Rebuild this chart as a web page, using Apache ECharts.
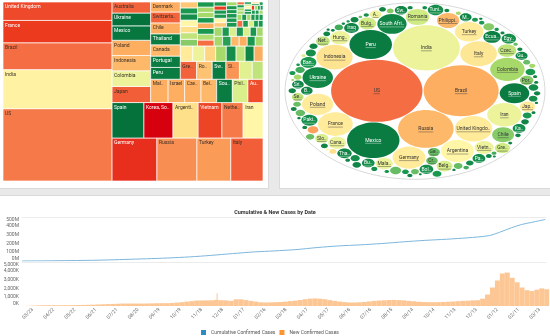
<!DOCTYPE html>
<html><head><meta charset="utf-8">
<script src="https://cdn.jsdelivr.net/npm/echarts@6/dist/echarts.min.js"></script>
<style>
html,body{margin:0;padding:0;width:550px;height:336px;overflow:hidden;background:#e9e9e9;font-family:Roboto,sans-serif}
.panel{position:absolute;background:#fff;border:1px solid #dadada;box-sizing:border-box}
#chart{position:absolute;left:0;top:0;width:550px;height:336px}
</style></head><body>
<div class="panel" style="left:-1px;top:-1px;width:270px;height:190px"></div>
<div class="panel" style="left:279px;top:-1px;width:272px;height:190px"></div>
<div class="panel" style="left:-1px;top:195px;width:552px;height:142px"></div>
<div id="chart"></div>
<script>
// ---------------- DATA ----------------
// Treemap: cumulative confirmed cases (millions) and colour trend score (0 green .. 1 red)
const treeNames = ['US','India','Brazil','France','United Kingdom','Germany','Russia','Turkey','Italy','Spain','Korea, South','Argentina','Vietnam','Netherlands','Iran','Japan','Colombia','Indonesia','Poland','Mexico','Ukraine','Australia','Malaysia','Israel','Czechia','Belgium','South Africa','Philippines','Austria','Peru','Portugal','Canada','Thailand','Chile','Switzerland','Denmark','Greece','Romania','Sweden','Slovakia','Iraq','Bangladesh','Serbia','Hungary','Jordan','Georgia','Pakistan','Kazakhstan','Norway','Ireland','Morocco','Bulgaria','Croatia','Lebanon','Cuba','Tunisia','Lithuania','Singapore','Nepal','Belarus','Slovenia','Bolivia','United Arab Emirates','Uruguay','Ecuador','Costa Rica','Guatemala','Latvia','Finland','Azerbaijan','Panama','Saudi Arabia','Sri Lanka','West Bank and Gaza','Paraguay','Kuwait','Burma','Dominican Republic','Estonia','Bahrain','Venezuela','Moldova','New Zealand','Egypt','Libya','Mongolia','Ethiopia','Honduras','Armenia','Oman','Cyprus','Bosnia and Herzegovina','Qatar','Kenya','Zambia','North Macedonia','Botswana','Albania','Algeria','Nigeria','Zimbabwe','Uzbekistan','Montenegro','Mozambique','Luxembourg','Kyrgyzstan','Afghanistan','Laos','Maldives','Ghana','Namibia','Uganda','El Salvador','Iceland','Trinidad and Tobago','Cambodia','Jamaica','Rwanda','Brunei','Cameroon'];
const treeCases = [79.7,43.0,29.6,24.6,20.3,19.5,17.4,14.7,14.0,11.4,10.4,9.0,8.5,7.6,7.1,6.3,6.08,5.98,5.93,5.63,5.0,4.3,4.1,3.9,3.85,3.7,3.69,3.67,3.55,3.54,3.4,3.38,3.3,3.28,3.25,3.0,2.95,2.83,2.48,2.45,2.32,1.95,1.92,1.85,1.69,1.64,1.52,1.39,1.4,1.37,1.16,1.14,1.1,1.09,1.08,1.03,1.02,1.0,0.98,0.96,0.93,0.9,0.89,0.88,0.85,0.83,0.83,0.8,0.79,0.79,0.76,0.75,0.66,0.66,0.65,0.63,0.61,0.58,0.55,0.55,0.52,0.51,0.5,0.5,0.5,0.47,0.47,0.42,0.42,0.39,0.39,0.37,0.36,0.32,0.31,0.3,0.3,0.27,0.26,0.25,0.24,0.24,0.23,0.22,0.2,0.2,0.18,0.17,0.17,0.16,0.16,0.16,0.16,0.15,0.14,0.13,0.13,0.13,0.13,0.12];
const treeTrend = [.78,.52,.80,.90,.87,.92,.75,.73,.83,.02,1.0,.60,.88,.78,.50,.83,.45,.68,.70,.03,.02,.82,.70,.70,.70,.68,.04,.40,.86,.04,.04,.68,.04,.70,.82,.70,.82,.66,.04,.74,.42,.35,.55,.45,.62,.30,.08,.06,.35,.70,.25,.35,.60,.50,.08,.10,.65,.80,.32,.10,.70,.10,.30,.30,.10,.30,.12,.68,.70,.10,.30,.30,.10,.40,.10,.40,.10,.30,.65,.50,.10,.10,.90,.10,.10,.10,.10,.10,.10,.30,.80,.10,.40,.10,.10,.30,.10,.30,.10,.10,.10,.30,.30,.10,.80,.10,.10,.50,.40,.10,.10,.10,.30,.90,.30,.10,.10,.10,.60,.10];

// Circle pack: cumulative deaths (thousands) and colour trend score, in the chart's drawing order
const packNames = ['US','Brazil','India','Russia','Mexico','Peru','United Kingdom','Italy','France','Indonesia','Iran','Germany','Colombia','Argentina','South Africa','Turkey','Poland','Ukraine','Spain','Portugal','Georgia','Croatia','Bosnia and Herzegovina','Hungary','Canada','Chile','Romania','Vietnam','Czechia','Philippines','Malaysia','Bulgaria','Ecuador','Belgium','Pakistan','Bangladesh','Tunisia','Japan','Greece','Iraq','Egypt','Thailand','Bolivia','Netherlands','Slovakia','Kazakhstan','Burma','Paraguay','Sweden','Guatemala','Sri Lanka','Morocco','Serbia','Austria','Jordan','Switzerland','Korea, South','Nepal','Moldova','Honduras','Israel','Lebanon','Azerbaijan','North Macedonia','Saudi Arabia','Lithuania','Armenia','Cuba','Costa Rica','Panama','Afghanistan','Ethiopia','Uruguay','Algeria','Ireland','Slovenia','Belarus','Libya','Australia','Latvia','Venezuela','Kenya','Denmark','West Bank and Gaza','Zimbabwe','Sudan','China','Dominican Republic','Oman','El Salvador','Namibia','Zambia','Trinidad and Tobago','Uganda','Albania','Nigeria','Syria','Kosovo','Cambodia','Finland','Kyrgyzstan','Jamaica','Montenegro','Botswana','Malawi','Kuwait','Estonia','United Arab Emirates','Mozambique','Mongolia','Yemen','Norway','Senegal','Cameroon','Angola','Uzbekistan','Bahrain','Rwanda','Ghana','Eswatini','Somalia','Congo (Kinshasa)','Suriname','Singapore','Guyana','Mauritania','Madagascar','Luxembourg'];
const packDeaths = [975,657,521,360,321,212,164,158,141,154,139,127,139,127,100,96,114,108,102,21,17,15.5,15.7,45,37,56,65,42,40,58,34,36,35,30,30,29,28,27,27,25,24,24,22,22,20,19,19,19,18,17,16,16,16,15,14,13.6,13.4,12,11.3,10.8,10.5,10.3,9.6,9.2,9,8.8,8.6,8.5,8.2,8.1,7.6,7.5,7.1,6.9,6.7,6.6,6.6,6.3,5.8,5.7,5.7,5.6,5.6,5.4,5.4,4.9,4.6,4.4,4.3,4.1,4.0,4.0,3.7,3.6,3.5,3.1,3.1,3.1,3.0,2.9,2.8,2.8,2.7,2.6,2.6,2.5,2.4,2.3,2.2,2.2,2.1,2.0,1.96,1.9,1.9,1.6,1.5,1.5,1.4,1.4,1.35,1.3,1.3,1.2,1.2,1.0,1.0,1.0];
const packTrend = [.80,.70,.45,.68,.04,.04,.55,.57,.55,.58,.45,.55,.30,.50,.06,.55,.55,.06,.04,.25,.20,.20,.06,.45,.45,.25,.38,.45,.35,.68,.45,.38,.05,.40,.08,.10,.08,.55,.38,.06,.08,.06,.08,.35,.40,.08,.08,.08,.06,.06,.06,.06,.35,.45,.20,.25,.72,.08,.10,.08,.20,.15,.08,.10,.10,.20,.08,.06,.20,.15,.06,.06,.20,.06,.30,.20,.08,.06,.60,.20,.06,.06,.25,.10,.06,.06,.30,.10,.08,.10,.06,.06,.15,.06,.10,.06,.06,.08,.06,.30,.06,.06,.15,.08,.06,.10,.20,.10,.06,.06,.06,.40,.06,.06,.06,.10,.20,.06,.06,.06,.06,.06,.10,.50,.06,.06,.06,.30];

// Cumulative confirmed cases (millions)
const cumDates = ['2020-03-08','2020-04-01','2020-05-01','2020-06-01','2020-07-01','2020-08-01','2020-09-01','2020-10-01','2020-11-01','2020-12-01','2021-01-01','2021-02-01','2021-03-01','2021-04-01','2021-05-01','2021-06-01','2021-07-01','2021-08-01','2021-09-01','2021-10-01','2021-11-01','2021-12-01','2021-12-15','2022-01-01','2022-01-15','2022-02-01','2022-02-15','2022-03-01','2022-03-21'];
const cumCases = [0.11,0.93,3.3,6.3,10.6,17.7,25.6,34.1,46.6,63.6,84.2,103.5,114.6,129.6,152.8,171.4,183.4,198.6,218.0,234.4,247.5,263.5,273,289.5,326,378,414,438,472];

// New confirmed cases (thousands per day), one reading per week starting at newStart
const newStart = '2020-03-08';
const newCases = [8,25,45,75,85,90,88,90,92,95,100,110,125,135,150,175,195,215,235,255,275,275,280,280,275,285,300,315,320,325,345,385,430,500,560,620,630,640,650,700,660,640,580,
760,760,670,580,500,420,400,410,430,450,500,560,610,680,770,840,860,830,770,670,580,500,440,400,400,420,460,520,580,620,650,680,690,670,640,580,540,490,450,440,430,440,460,480,510,550,580,600,640,660,830,1300,
2100,2900,3700,3800,3200,2700,2100,1800,1700,1850,2000,1900];
const spikeDates = ['2020-12-10'];
const spikeCases = [1450];

const tickDates = ['2020-03-23','2020-04-22','2020-05-22','2020-06-21','2020-07-21','2020-08-20','2020-09-19','2020-10-19','2020-11-18','2020-12-18','2021-01-17','2021-02-16','2021-03-18','2021-04-17','2021-05-17','2021-06-16','2021-07-16','2021-08-15','2021-09-14','2021-10-14','2021-11-13','2021-12-13','2022-01-12','2022-02-11','2022-03-13'];
const axisStart = '2020-03-08', axisEnd = '2022-03-22';

// ---------------- LAYOUT HELPERS ----------------
function squarifyLayout(values, ratio) {
  const nodes = values.map((v, i) => ({v, i})).sort((a, b) => b.v - a.v);
  let value = nodes.reduce((s, n) => s + n.v, 0);
  let x0 = 0, y0 = 0, x1 = 1, y1 = 1, i0 = 0, i1 = 0;
  const n = nodes.length;
  while (i1 < n) {
    const dx = x1 - x0, dy = y1 - y0;
    let sumValue = nodes[i1++].v, minV = sumValue, maxV = sumValue;
    const alpha = Math.max(dy / dx, dx / dy) / (value * ratio);
    let beta = sumValue * sumValue * alpha;
    let minRatio = Math.max(maxV / beta, beta / minV);
    for (; i1 < n; ++i1) {
      const nv = nodes[i1].v;
      sumValue += nv;
      if (nv < minV) minV = nv;
      if (nv > maxV) maxV = nv;
      beta = sumValue * sumValue * alpha;
      const nr = Math.max(maxV / beta, beta / minV);
      if (nr > minRatio) { sumValue -= nv; break; }
      minRatio = nr;
    }
    const row = nodes.slice(i0, i1);
    if (dx < dy) {
      const yy = y0 + dy * sumValue / value;
      let xx = x0;
      row.forEach(nd => { nd.x0 = xx; xx += dx * nd.v / sumValue; nd.x1 = xx; nd.y0 = y0; nd.y1 = yy; });
      y0 = yy;
    } else {
      const xx = x0 + dx * sumValue / value;
      let yy = y0;
      row.forEach(nd => { nd.y0 = yy; yy += dy * nd.v / sumValue; nd.y1 = yy; nd.x0 = x0; nd.x1 = xx; });
      x0 = xx;
    }
    value -= sumValue; i0 = i1;
  }
  return nodes;
}

function place(b, a, c) {
  const dx = b.x - a.x, dy = b.y - a.y, d2 = dx * dx + dy * dy;
  if (d2) {
    let a2 = a.r + c.r; a2 *= a2;
    let b2 = b.r + c.r; b2 *= b2;
    if (a2 > b2) {
      const x = (d2 + b2 - a2) / (2 * d2), y = Math.sqrt(Math.max(0, b2 / d2 - x * x));
      c.x = b.x - x * dx - y * dy; c.y = b.y - x * dy + y * dx;
    } else {
      const x = (d2 + a2 - b2) / (2 * d2), y = Math.sqrt(Math.max(0, a2 / d2 - x * x));
      c.x = a.x + x * dx - y * dy; c.y = a.y + x * dy + y * dx;
    }
  } else { c.x = a.x + c.r; c.y = a.y; }
}
function intersects(a, b) {
  const dr = a.r + b.r - 1e-6, dx = b.x - a.x, dy = b.y - a.y;
  return dr > 0 && dr * dr > dx * dx + dy * dy;
}
function scoreNode(node) {
  const a = node._, b = node.next._, ab = a.r + b.r;
  const dx = (a.x * b.r + b.x * a.r) / ab, dy = (a.y * b.r + b.y * a.r) / ab;
  return dx * dx + dy * dy;
}
function packSiblings(circles) {
  const n = circles.length;
  let a = circles[0]; a.x = 0; a.y = 0;
  let b = circles[1]; a.x = -b.r; b.x = a.r; b.y = 0;
  let c = circles[2];
  place(b, a, c);
  a = {_: a}; b = {_: b}; c = {_: c};
  a.next = c.previous = b; b.next = a.previous = c; c.next = b.previous = a;
  pack: for (let i = 3; i < n; ++i) {
    place(a._, b._, circles[i]);
    c = {_: circles[i]};
    let j = b.next, k = a.previous, sj = b._.r, sk = a._.r;
    do {
      if (sj <= sk) {
        if (intersects(j._, c._)) { b = j; a.next = b; b.previous = a; --i; continue pack; }
        sj += j._.r; j = j.next;
      } else {
        if (intersects(k._, c._)) { a = k; a.next = b; b.previous = a; --i; continue pack; }
        sk += k._.r; k = k.previous;
      }
    } while (j !== k.next);
    c.previous = a; c.next = b; a.next = b.previous = b = c;
    let aa = scoreNode(a), ca;
    while ((c = c.next) !== b) { if ((ca = scoreNode(c)) < aa) { a = c; aa = ca; } }
    b = a.next;
  }
}
function enclose(cs) {
  let cx = 0, cy = 0;
  cs.forEach(c => { cx += c.x; cy += c.y; }); cx /= cs.length; cy /= cs.length;
  for (let k = 1; k <= 20000; k++) {
    let best = null, bd = -1;
    for (const c of cs) { const d = Math.hypot(c.x - cx, c.y - cy) + c.r; if (d > bd) { bd = d; best = c; } }
    const dd = Math.hypot(best.x - cx, best.y - cy) || 1;
    const px = best.x + (best.x - cx) / dd * best.r, py = best.y + (best.y - cy) / dd * best.r;
    cx += (px - cx) / (k + 1); cy += (py - cy) / (k + 1);
  }
  let r = 0; for (const c of cs) r = Math.max(r, Math.hypot(c.x - cx, c.y - cy) + c.r);
  return {x: cx, y: cy, r};
}
function packLayout(values, pad) {
  const cs = values.map((v, i) => ({r: Math.sqrt(v) + pad, i, x: 0, y: 0}));
  packSiblings(cs);
  const e = enclose(cs);
  cs.forEach(c => { c.x -= e.x; c.y -= e.y; c.r -= pad; });
  return {circles: cs, R: e.r};
}

// text fitting for circle labels
const FS = 5;
const mctx = document.createElement('canvas').getContext('2d');
mctx.font = FS + 'px Roboto';
function fitText(t, maxW) {
  if (mctx.measureText(t).width <= maxW) return t;
  for (let n = t.length - 1; n >= 1; n--) {
    const s = t.slice(0, n) + '..';
    if (mctx.measureText(s).width <= maxW) return s;
  }
  return '';
}

// ---------------- BUILD ----------------
const PALETTE = ['#006837','#1a9850','#66bd63','#a6d96a','#d9ef8b','#fff6a8','#fee08b','#fdae61','#f46d43','#ec3a1f','#d7000f'];
const tree = squarifyLayout(treeCases, 2);
const treeData = tree.map(nd => [nd.x0, nd.y0, nd.x1, nd.y1, treeTrend[nd.i], nd.i]);
const pk = packLayout(packDeaths, 0.4);
const E = pk.R * 1.012;
const packData = pk.circles.map(c => [c.x, c.y, c.r, packTrend[c.i], c.i]);

const P = s => { const p = s.split('-').map(Number); return Date.UTC(p[0], p[1] - 1, p[2]); };
const DAY = 864e5;
const t0 = P(newStart);
const newData = newCases.map((v, i) => [t0 + (i * 7 + 3) * DAY, v]);
const spikeData = spikeDates.map((d, i) => [P(d), spikeCases[i]]);
const cumData = cumDates.map((d, i) => [P(d), cumCases[i]]);
const tickTimes = tickDates.map(P);
const xMin = P(axisStart), xMax = P(axisEnd);
const pad2 = n => (n < 10 ? '0' : '') + n;
const fmtDate = v => { const d = new Date(v); return pad2(d.getUTCMonth() + 1) + '/' + pad2(d.getUTCDate()); };

function renderTree(params, api) {
  const a = api.coord([api.value(0), api.value(3)]);
  const b = api.coord([api.value(2), api.value(1)]);
  const w = b[0] - a[0], h = b[1] - a[1];
  const s = api.value(4), idx = api.value(5);
  const kids = [{type: 'rect', shape: {x: a[0], y: a[1], width: w, height: h},
    style: {fill: api.visual('color'), stroke: 'rgba(255,255,255,0.85)', lineWidth: 0.8}}];
  if (w >= 13 && h >= 8) {
    kids.push({type: 'text', x: a[0] + 2, y: a[1] + 2.5, style: {
      text: treeNames[idx], fontSize: FS, fontFamily: 'Roboto',
      fill: (s >= 0.85 || s <= 0.15) ? '#ffffff' : '#3b2f25',
      width: w - 3, overflow: 'truncate', ellipsis: '..', align: 'left', verticalAlign: 'top'}});
  }
  return {type: 'group', children: kids};
}
function renderOutline(params, api) {
  const c = api.coord([api.value(0), api.value(1)]);
  const sz = api.size([api.value(2), api.value(2)]);
  return {type: 'ellipse', shape: {cx: c[0], cy: c[1], rx: sz[0], ry: sz[1]},
    style: {fill: 'none', stroke: '#d8d8d8', lineWidth: 1}};
}
function renderPack(params, api) {
  const c = api.coord([api.value(0), api.value(1)]);
  const sz = api.size([api.value(2), api.value(2)]);
  const rx = sz[0], ry = sz[1];
  const s = api.value(3), idx = api.value(4);
  const kids = [{type: 'ellipse', shape: {cx: c[0], cy: c[1], rx: rx, ry: ry}, style: {fill: api.visual('color')}}];
  if (rx * 2 >= 11) {
    const t = fitText(packNames[idx], rx * 2 - 3);
    if (t) {
      const col = s <= 0.15 ? '#ffffff' : '#333333';
      const tw = mctx.measureText(t).width;
      kids.push({type: 'text', x: c[0], y: c[1], style: {
        text: t, fontSize: FS, fontFamily: 'Roboto', fill: col, align: 'center', verticalAlign: 'middle'}});
      kids.push({type: 'line', shape: {x1: c[0] - tw / 2, y1: c[1] + 3, x2: c[0] + tw / 2, y2: c[1] + 3},
        style: {stroke: col, lineWidth: 0.5, opacity: 0.8}});
    }
  }
  return {type: 'group', children: kids};
}

const hidden = {show: false};
const lbl = {fontSize: 5, color: '#666', fontFamily: 'Roboto'};
const chart = echarts.init(document.getElementById('chart'));
chart.setOption({
  animation: false,
  textStyle: {fontFamily: 'Roboto, sans-serif'},
  title: {text: 'Cumulative & New Cases by Date', left: 'center', top: 205,
    textStyle: {fontSize: 5.5, fontWeight: 'bold', color: '#333'}},
  legend: {left: 196, top: 325, itemWidth: 5, itemHeight: 5, itemGap: 4, icon: 'rect',
    textStyle: {fontSize: 5, color: '#555'},
    data: [{name: 'Cumulative Confirmed Cases', itemStyle: {color: '#2e8bc6'}},
           {name: 'New Confirmed Cases', itemStyle: {color: '#ff9430', opacity: 1}}]},
  grid: [
    {left: 3, top: 2, width: 260, height: 179},
    {left: 284, top: 2, width: 262, height: 178},
    {left: 22, right: 4, top: 217, height: 44},
    {left: 22, right: 4, top: 262, height: 44}
  ],
  xAxis: [
    {gridIndex: 0, type: 'value', min: 0, max: 1, show: false},
    {gridIndex: 1, type: 'value', min: -E, max: E, show: false},
    {gridIndex: 2, type: 'value', position: 'top', min: xMin, max: xMax,
      axisLine: {show: true, onZero: false, lineStyle: {color: '#ececec'}}, axisTick: hidden, axisLabel: hidden, splitLine: hidden},
    {gridIndex: 3, type: 'value', position: 'bottom', min: xMin, max: xMax,
      axisLine: {show: false, onZero: false}, axisTick: hidden, splitLine: hidden,
      axisLabel: Object.assign({rotate: 45, margin: 3, hideOverlap: false, customValues: tickTimes, formatter: fmtDate}, lbl)},
    {gridIndex: 3, type: 'value', position: 'top', min: xMin, max: xMax,
      axisLine: {show: true, onZero: false, lineStyle: {color: '#ececec'}}, axisTick: hidden, axisLabel: hidden, splitLine: hidden},
    {gridIndex: 3, type: 'value', min: xMin, max: xMax, show: false}
  ],
  yAxis: [
    {gridIndex: 0, type: 'value', min: 0, max: 1, show: false},
    {gridIndex: 1, type: 'value', min: -E, max: E, show: false},
    {gridIndex: 2, type: 'value', min: 0, max: 500, interval: 100, splitLine: hidden, axisLine: hidden, axisTick: hidden,
      axisLabel: Object.assign({margin: 3, formatter: '{value}M', verticalAlignMaxLabel: 'top', verticalAlignMinLabel: 'bottom'}, lbl)},
    {gridIndex: 3, type: 'value', min: 0, max: 5000, interval: 1000, splitLine: hidden, axisLine: hidden, axisTick: hidden,
      axisLabel: Object.assign({margin: 3, formatter: v => v.toLocaleString('en-US') + 'K', verticalAlignMaxLabel: 'top', verticalAlignMinLabel: 'bottom'}, lbl)}
  ],
  visualMap: [
    {type: 'continuous', show: false, seriesIndex: 0, dimension: 4, min: 0, max: 1, inRange: {color: PALETTE}},
    {type: 'continuous', show: false, seriesIndex: 2, dimension: 3, min: 0, max: 1, inRange: {color: PALETTE}}
  ],
  series: [
    {type: 'custom', xAxisIndex: 0, yAxisIndex: 0, renderItem: renderTree, data: treeData, encode: {x: [0, 2], y: [1, 3]}, silent: true},
    {type: 'custom', xAxisIndex: 1, yAxisIndex: 1, renderItem: renderOutline, data: [[0, 0, pk.R * 1.004]], silent: true},
    {type: 'custom', xAxisIndex: 1, yAxisIndex: 1, renderItem: renderPack, data: packData, encode: {x: 0, y: 1}, silent: true},
    {name: 'Cumulative Confirmed Cases', type: 'line', xAxisIndex: 2, yAxisIndex: 2, data: cumData, showSymbol: false, smooth: 0.3,
      lineStyle: {width: 1, color: '#7db6dc'}, itemStyle: {color: '#2e8bc6'}},
    {name: 'New Confirmed Cases', type: 'bar', xAxisIndex: 3, yAxisIndex: 3, data: newData, barWidth: 5,
      itemStyle: {color: '#fdc795'}},
    {name: 'New Confirmed Cases', type: 'bar', xAxisIndex: 5, yAxisIndex: 3, data: spikeData, barWidth: 1,
      itemStyle: {color: '#fdc795'}}
  ]
});
</script></body></html>
